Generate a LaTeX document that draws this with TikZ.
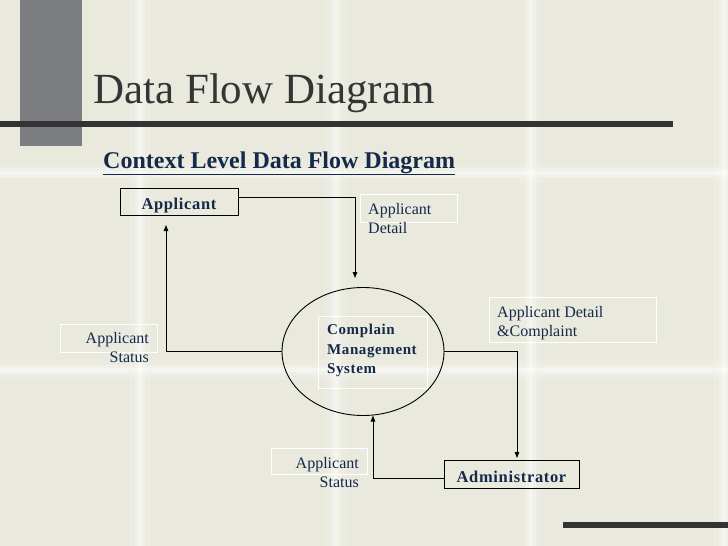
\documentclass[tikz,border=0pt]{standalone}
\usepackage{fontspec}
\setmainfont{Liberation Serif}
\newfontfamily\spacedbold[LetterSpace=4]{Liberation Serif}
\usetikzlibrary{arrows.meta,shapes.geometric}
\definecolor{bgc}{HTML}{E9E9DD}
\definecolor{bargray}{HTML}{7B7D80}
\definecolor{darkbar}{HTML}{333333}
\definecolor{titlec}{HTML}{353535}
\definecolor{navy}{HTML}{15294A}
\tikzset{
  entity/.style={draw=black, line width=0.9pt, inner sep=0pt, text=navy,
    text height=16.6pt, text depth=0pt,
    font=\spacedbold\bfseries\fontsize{16.5}{19}\selectfont},
  frame/.style={draw=white, line width=0.8pt, inner sep=0pt},
  lbl/.style={inner sep=0pt, text=navy, font=\fontsize{16}{19.5}\selectfont},
  flow/.style={draw=black, line width=0.9pt, -{Triangle[length=6pt,width=4.5pt]}},
}
\begin{document}
\begin{tikzpicture}[x=1pt,y=-1pt]
\fill[bgc] (0,0) rectangle (728,546);
\useasboundingbox (0,0) rectangle (728,546);
% light background grid stripes
\foreach \x in {140,336,531,724}{
  \fill[white,opacity=0.12] (\x-10,0) rectangle (\x+10,546);
  \fill[white,opacity=0.25] (\x-5,0) rectangle (\x+5,546);
  \fill[white,opacity=0.35] (\x-2,0) rectangle (\x+2,546);
}
\foreach \y in {173,370}{
  \fill[white,opacity=0.12] (0,\y-10) rectangle (728,\y+10);
  \fill[white,opacity=0.25] (0,\y-5) rectangle (728,\y+5);
  \fill[white,opacity=0.35] (0,\y-2) rectangle (728,\y+2);
}
% decorative bars
\fill[bargray] (20,0) rectangle (82,146);
\fill[darkbar] (0,121) rectangle (673,127);
\fill[darkbar] (563,522) rectangle (728,528);
% titles
\node[anchor=base west, inner sep=0pt, text=titlec, font=\fontsize{43}{43}\selectfont] (title) at (93,103) {Data Flow Diagram};
\node[anchor=base west, inner sep=0pt, text=navy, font=\bfseries\fontsize{24}{24}\selectfont] (sub) at (103,168) {\underline{Context Level Data Flow Diagram}};
% entities and process
\node[entity, minimum width=118pt, minimum height=27pt] (app) at (179,201.5) {Applicant};
\node[entity, minimum width=135pt, minimum height=28pt] (adm) at (511.5,474) {Administrator};
\node[draw=black, line width=0.9pt, ellipse, minimum width=162pt, minimum height=128pt, inner sep=0pt] (cms) at (363,351.5) {};
\node[frame, minimum width=109pt, minimum height=72pt] (cmsframe) at (372.5,352) {};
\node[anchor=north west, inner sep=0pt, text=navy, align=left,
  font=\spacedbold\bfseries\fontsize{15}{19.5}\selectfont] (cmstext) at (327,324) {Complain\\Management\\System};
% label frames and texts
\node[frame, minimum width=97pt, minimum height=28pt] (f1) at (408.5,208) {};
\node[lbl, anchor=north west, align=left] (l1) at (368,203) {Applicant\\Detail};
\node[frame, minimum width=167pt, minimum height=45pt] (f2) at (572.5,319.5) {};
\node[lbl, anchor=north west, align=left] (l2) at (497,306) {Applicant Detail\\\&Complaint};
\node[frame, minimum width=97pt, minimum height=28pt] (f3) at (108.5,338) {};
\node[lbl, anchor=north east, align=right] (l3) at (149,332) {Applicant\\Status};
\node[frame, minimum width=96pt, minimum height=26pt] (f4) at (319,461) {};
\node[lbl, anchor=north east, align=right] (l4) at (359,457) {Applicant\\Status};
% connectors
\coordinate (t1) at (355,278);
\coordinate (t2) at (166,225);
\coordinate (t3) at (517,458);
\coordinate (t4) at (373,415.5);
\draw[flow] ([yshift=4.5pt]app.east) -| (t1);
\draw[flow] (cms.west) -| (t2);
\draw[flow] (cms.east) -| (t3);
\draw[flow] ([yshift=-4pt]adm.west) -| (t4);
\end{tikzpicture}
\end{document}
